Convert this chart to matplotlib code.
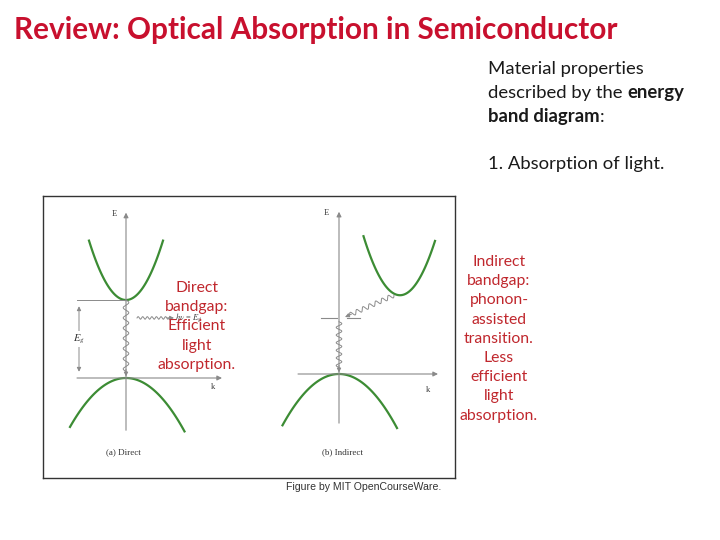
import numpy as np
import matplotlib
matplotlib.use("Agg")
import matplotlib.pyplot as plt

plt.rcParams['font.family'] = ['Lato', 'DejaVu Sans']
plt.rcParams['mathtext.fontset'] = 'stix'

W, H = 720, 540
KPX, EPX = 50.0, 78.0   # pixels per unit of k and of E inside the panels

# ---- band diagram values (E in units of the gap, valence band max = 0) ----
EG = 1.0
direct_cb_curv = 1.39
direct_cb_k = [-0.74, 0.74]
direct_vb_curv = 0.50
direct_vb_k = [-1.12, 1.17]

indirect_cb_k0 = 1.22
indirect_cb_E0 = 1.01
indirect_cb_curv = 1.42
indirect_cb_k = [0.49, 1.92]
indirect_vb_curv = 0.515
indirect_vb_k = [-1.13, 1.16]
phonon_level = 0.72

# ---- slide text ----
title = "Review: Optical Absorption in Semiconductor"
direct_note = ["Direct", "bandgap:", "Efficient", "light", "absorption."]
indirect_note = ["Indirect", "bandgap:", "phonon-", "assisted", "transition.",
                 "Less", "efficient", "light", "absorption."]

GREEN = '#3c8c34'
GRAY = '#8a8a8a'
RED = '#c8102e'
RED2 = '#c0272d'


def px(x, y):
    return x / W, 1 - y / H


def panel(x0, y0):
    # axes whose data origin sits on pixel (x0, y0)
    left, right, top, bottom = 70, 120, 175, 90
    ax = fig.add_axes([(x0 - left) / W, 1 - (y0 + bottom) / H,
                       (left + right) / W, (top + bottom) / H])
    ax.set_xlim(-left / KPX, right / KPX)
    ax.set_ylim(-bottom / EPX, top / EPX)
    ax.axis('off')
    return ax


def arrow(ax, p0, p1, color=GRAY, lw=0.8, style='-|>', ms=7):
    ax.annotate('', xy=p1, xytext=p0,
                arrowprops=dict(arrowstyle=style, color=color, lw=lw,
                                mutation_scale=ms, shrinkA=0, shrinkB=0))


def wavy(ax, p0, p1, waves, amp=2.5, head=True):
    # sine wave between two data points, built in display space
    a = ax.transData.transform(p0)
    b = ax.transData.transform(p1)
    d = b - a
    L = np.hypot(*d)
    u = d / L
    n = np.array([-u[1], u[0]])
    s = np.linspace(0, L - 5, 400)
    pts = a + np.outer(s, u) + np.outer(amp * np.sin(2 * np.pi * waves * s / (L - 5)), n)
    data = ax.transData.inverted().transform(pts)
    ax.plot(data[:, 0], data[:, 1], color=GRAY, lw=0.7)
    if head:
        tip = ax.transData.inverted().transform(b)
        tail = ax.transData.inverted().transform(a + (L - 7) * u)
        arrow(ax, tail, tip, lw=0.7, ms=6)


fig = plt.figure(figsize=(W / 100, H / 100), dpi=100)

# title
fig.text(*px(14, 30), title, fontsize=21.4, fontweight='bold', color=RED,
         va='center', ha='left')

# frame of the picture
frame = fig.add_axes([43 / W, 1 - 478 / H, (455 - 43) / W, (478 - 196) / H])
frame.set_xticks([])
frame.set_yticks([])
for sp in frame.spines.values():
    sp.set_color('#333333')
    sp.set_linewidth(1.0)
frame.patch.set_alpha(0)

serif = dict(family=['Liberation Serif', 'DejaVu Serif'], color='#333333')

# ---- (a) direct ----
axd = panel(126, 378)
arrow(axd, (0, -0.67), (0, 2.12))
arrow(axd, (-0.98, 0), (1.92, 0))
k = np.linspace(*direct_cb_k, 100)
axd.plot(k, EG + direct_cb_curv * k ** 2, color=GREEN, lw=1.6)
k = np.linspace(*direct_vb_k, 100)
axd.plot(k, -direct_vb_curv * k ** 2, color=GREEN, lw=1.6)
axd.plot([-0.98, 0], [EG, EG], color=GRAY, lw=0.7)
arrow(axd, (-0.94, 0.5), (-0.94, 0.08), lw=0.7, ms=6)
arrow(axd, (-0.94, 0.5), (-0.94, 0.92), lw=0.7, ms=6)
axd.text(-0.94, 0.5, r'$E_g$', fontsize=7.5, ha='center', va='center',
         bbox=dict(fc='white', ec='none', pad=1), **serif)
wavy(axd, (0, EG), (0, 0.02), 7, amp=2.8)
wavy(axd, (0.22, 0.77), (0.96, 0.77), 7, amp=1.3)
axd.text(0.98, 0.77, r'$h\nu$ = $E_g$', fontsize=6, ha='left', va='center', **serif)
axd.text(-0.18, 2.1, 'E', fontsize=6, ha='right', va='center', **serif)
axd.text(1.74, -0.12, 'k', fontsize=6, ha='center', va='center', **serif)
axd.text(-0.06, -0.95, '(a) Direct', fontsize=6.5, ha='center', va='center', **serif)

# ---- (b) indirect ----
axi = panel(339, 374)
arrow(axi, (0, -0.63), (0, 2.08))
arrow(axi, (-0.82, 0), (1.98, 0))
k = np.linspace(*indirect_cb_k, 100)
axi.plot(k, indirect_cb_E0 + indirect_cb_curv * (k - indirect_cb_k0) ** 2,
         color=GREEN, lw=1.6)
k = np.linspace(*indirect_vb_k, 100)
axi.plot(k, -indirect_vb_curv * k ** 2, color=GREEN, lw=1.6)
axi.plot([-0.36, -0.04], [phonon_level] * 2, color=GRAY, lw=0.8)
axi.plot([0.16, 0.42], [phonon_level] * 2, color=GRAY, lw=0.8)
wavy(axi, (indirect_cb_k0 - 0.12, indirect_cb_E0), (0.12, phonon_level + 0.01), 7, amp=2.2)
wavy(axi, (0, phonon_level - 0.05), (0, 0.02), 6, amp=2.8)
axi.text(-0.2, 2.07, 'E', fontsize=6, ha='right', va='center', **serif)
axi.text(1.78, -0.2, 'k', fontsize=6, ha='center', va='center', **serif)
axi.text(0.06, -1.0, '(b) Indirect', fontsize=6.5, ha='center', va='center', **serif)

fig.text(*px(364, 487), 'Figure by MIT OpenCourseWare.', fontsize=7.6,
         family=['Liberation Sans', 'DejaVu Sans'], color='#333333',
         ha='center', va='center')

# red notes
for i, line in enumerate(direct_note):
    fig.text(*px(197, 288 + 19.2 * i), line, fontsize=11.3, color=RED2,
             ha='center', va='center')
for i, line in enumerate(indirect_note):
    fig.text(*px(499, 262 + 19.2 * i), line, fontsize=11.3, color=RED2,
             ha='center', va='center')

# right text block with mixed weights
fig.canvas.draw()
rend = fig.canvas.get_renderer()
TXT = dict(fontsize=13.3, color='#1a1a1a', va='baseline', ha='left')


def runs(y, parts):
    x = 488
    for s, w in parts:
        t = fig.text(x / W, 1 - y / H, s, fontweight=w, **TXT)
        x = t.get_window_extent(rend).x1


runs(74, [('Material properties', 'normal')])
runs(98, [('described by the ', 'normal'), ('energy', 'bold')])
runs(122, [('band diagram', 'bold'), (':', 'normal')])
runs(169, [('1. Absorption of light.', 'normal')])

fig.savefig('out.png', dpi=100)
